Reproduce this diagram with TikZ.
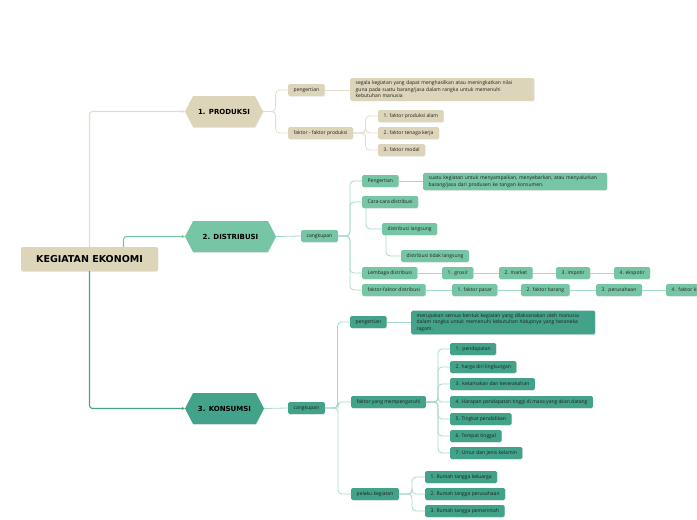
\documentclass[tikz,border=0pt]{standalone}
\usepackage{fontspec}
\setmainfont{Open Sans}
\newfontfamily\headfont{DejaVu Sans}
\usetikzlibrary{arrows.meta}
\usetikzlibrary{calc}
\usetikzlibrary{shapes.symbols}
\usetikzlibrary{shadows}

\definecolor{sand}{HTML}{DCD5B9}
\definecolor{sandline}{HTML}{E3DDC8}
\definecolor{mint}{HTML}{76C6A5}
\definecolor{mintline}{HTML}{A2DAC3}
\definecolor{sea}{HTML}{42A38A}
\definecolor{sealine}{HTML}{A3DACA}
\definecolor{ink}{HTML}{1E1E1E}

\tikzset{
  leaf/.style={rectangle, rounded corners=1.5pt, minimum height=12pt,
    inner xsep=5.5pt, inner ysep=1pt, anchor=west, text=ink,
    font=\fontsize{5}{6.4}\selectfont,
    drop shadow={shadow xshift=0.4pt, shadow yshift=-0.6pt, opacity=0.18}},
  note/.style={leaf, text width=173pt, align=left, inner ysep=3pt},
  hexa/.style={signal, signal to=west and east, signal pointer angle=125,
    minimum height=31pt, inner xsep=2pt, text=black,
    font=\headfont\bfseries\fontsize{7}{8}\selectfont,
    drop shadow={shadow xshift=0.4pt, shadow yshift=-0.8pt, opacity=0.18}},
  link/.style={line width=0.8pt, rounded corners=4pt},
  root link/.style={line width=1.1pt, rounded corners=3pt,
    -{Stealth[length=3pt, width=3pt]}},
  bend link/.style={to path={-| ($(\tikztostart)!0.5!(\tikztotarget)$) |- (\tikztotarget)}},
}

\begin{document}
\begin{tikzpicture}[x=1pt, y=-1pt]
\useasboundingbox (0,0) rectangle (697,520); % fix the page size

% main topic and the three branches
\node[rectangle, rounded corners=2pt, fill=sand, minimum width=137pt, minimum height=24pt,
      font=\headfont\bfseries\fontsize{9.5}{11}\selectfont,
      drop shadow={shadow xshift=0.4pt, shadow yshift=-0.8pt, opacity=0.18}]
      (root) at (89.5,259) {KEGIATAN EKONOMI};
\node[hexa, fill=sand, minimum width=78pt] (prod) at (224,111.5) {1. PRODUKSI};
\node[hexa, fill=mint, minimum width=91pt] (dist) at (230.5,236.5) {2. DISTRIBUSI};
\node[hexa, fill=sea, minimum width=79pt] (kons) at (224.5,408.5) {3. KONSUMSI};

\draw[root link, sandline] (root.north) |- (prod.west);
\draw[root link, mint] ([xshift=34pt]root.north) |- (dist.west);
\draw[root link, sea] (root.south) |- (kons.west);

% produksi
\node[leaf, fill=sand] (pPeng) at (288,90) {pengertian};
\node[note, fill=sand] (pDef) at (350,89.5) {segala kegiatan yang dapat menghasilkan atau meningkatkan nilai\\
  guna pada suatu barang/jasa dalam rangka untuk memenuhi\\kebutuhan manusia};
\node[leaf, fill=sand] (pFak) at (288,133) {faktor - faktor produksi};
\foreach \y/\t [count=\i] in {116/{1. faktor produksi alam}, 133/{2. faktor tenaga kerja},
                              150/{3. faktor modal}}
  \node[leaf, fill=sand] (p\i) at (378,\y) {\t};

\draw[link, sandline, bend link] (prod.east) to (pPeng.west);
\draw[link, sandline, bend link] (prod.east) to (pFak.west);
\draw[link, sandline] (pPeng.east) -- (pDef.west |- pPeng.east);
\foreach \i in {1,2,3}
  \draw[link, sandline, bend link] (pFak.east) to (p\i.west);

% distribusi
\node[leaf, fill=mint] (dCang) at (301,236) {cangkupan};
\node[leaf, fill=mint] (dPeng) at (362,181) {Pengertian};
\node[note, fill=mint] (dDef) at (423,181.5) {suatu kegiatan untuk menyampaikan, menyebarkan, atau menyalurkan\\
  barang/jasa dari produsen ke tangan konsumen.};
\node[leaf, fill=mint] (dCara) at (362,202) {Cara-cara distribusi};
\node[leaf, fill=mint] (dLang) at (382,229) {distribusi langsung};
\node[leaf, fill=mint] (dTidak) at (401,256) {distribusi tidak langsung};
\node[leaf, fill=mint] (dLemb) at (362,273) {Lembaga distribusi};
\node[leaf, fill=mint] (dGrosir) at (442,273) {1.~~grosir};
\node[leaf, fill=mint] (dMarket) at (499,273) {2. market};
\node[leaf, fill=mint] (dImpor) at (556,273) {3. impotir};
\node[leaf, fill=mint] (dEkspor) at (614,273) {4. ekspotir};
\node[leaf, fill=mint] (dFak) at (362,290) {faktor-faktor distribusi};
\node[leaf, fill=mint] (dPasar) at (452,290) {1. faktor pasar};
\node[leaf, fill=mint] (dBarang) at (521,290) {2. faktor barang};
\node[leaf, fill=mint] (dPerus) at (596,290) {3.~~perusahaan};
\node[leaf, fill=mint, text width=40pt] (dKe) at (666,290) {4. faktor ke};

\draw[link, mintline] (dist.east) -- (dCang.west);
\foreach \n in {dPeng, dCara, dLemb, dFak}
  \draw[link, mintline, bend link] (dCang.east) to (\n.west);
\draw[link, mintline] (dPeng.east) -- (dDef.west |- dPeng.east);
\draw[link, mintline] ([xshift=4pt]dCara.south west) |- (dLang.west);
\draw[link, mintline] ([xshift=4pt]dLang.south west) |- (dTidak.west);
\draw[link, mintline] (dLemb) -- (dGrosir) -- (dMarket) -- (dImpor) -- (dEkspor);
\draw[link, mintline] (dFak) -- (dPasar) -- (dBarang) -- (dPerus) -- (dKe);

% konsumsi
\node[leaf, fill=sea] (kCang) at (288,408) {cangkupan};
\node[leaf, fill=sea] (kPeng) at (350,322) {pengertian};
\node[note, fill=sea] (kDef) at (411,322.5) {merupakan semua bentuk kegiatan yang dilaksanakan oleh manusia\\
  dalam rangka untuk memenuhi kebutuhan hidupnya yang beraneka\\ragam.};
\node[leaf, fill=sea] (kFak) at (351,402) {faktor yang mempengaruhi};
\foreach \y/\t [count=\i] in {349/{1.~~pendapatan}, 367/{2. harga diri lingkungan},
    384/{3.~~ketamakan dan keserakahan},
    402/{4. Harapan pendapatan tinggi di masa yang akan datang},
    419/{5. Tingkat pendidikan}, 436/{6. Tempat tinggal}, 453/{7. Umur dan jenis kelamin}}
  \node[leaf, fill=sea] (k\i) at (450,\y) {\t};
\node[leaf, fill=sea] (kPelaku) at (351,494) {pelaku kegiatan};
\foreach \y/\t [count=\i] in {477/{1. Rumah tangga keluarga}, 494/{2. Rumah tangga perusahaan},
                              511/{3. Rumah tangga pemerintah}}
  \node[leaf, fill=sea] (r\i) at (425,\y) {\t};

\draw[link, sealine] (kons.east) -- (kCang.west);
\foreach \n in {kPeng, kFak, kPelaku}
  \draw[link, sealine, bend link] (kCang.east) to (\n.west);
\draw[link, sealine] (kPeng.east) -- (kDef.west |- kPeng.east);
\foreach \i in {1,...,7}
  \draw[link, sealine, bend link] (kFak.east) to (k\i.west);
\foreach \i in {1,2,3}
  \draw[link, sealine, bend link] (kPelaku.east) to (r\i.west);
\end{tikzpicture}
\end{document}
